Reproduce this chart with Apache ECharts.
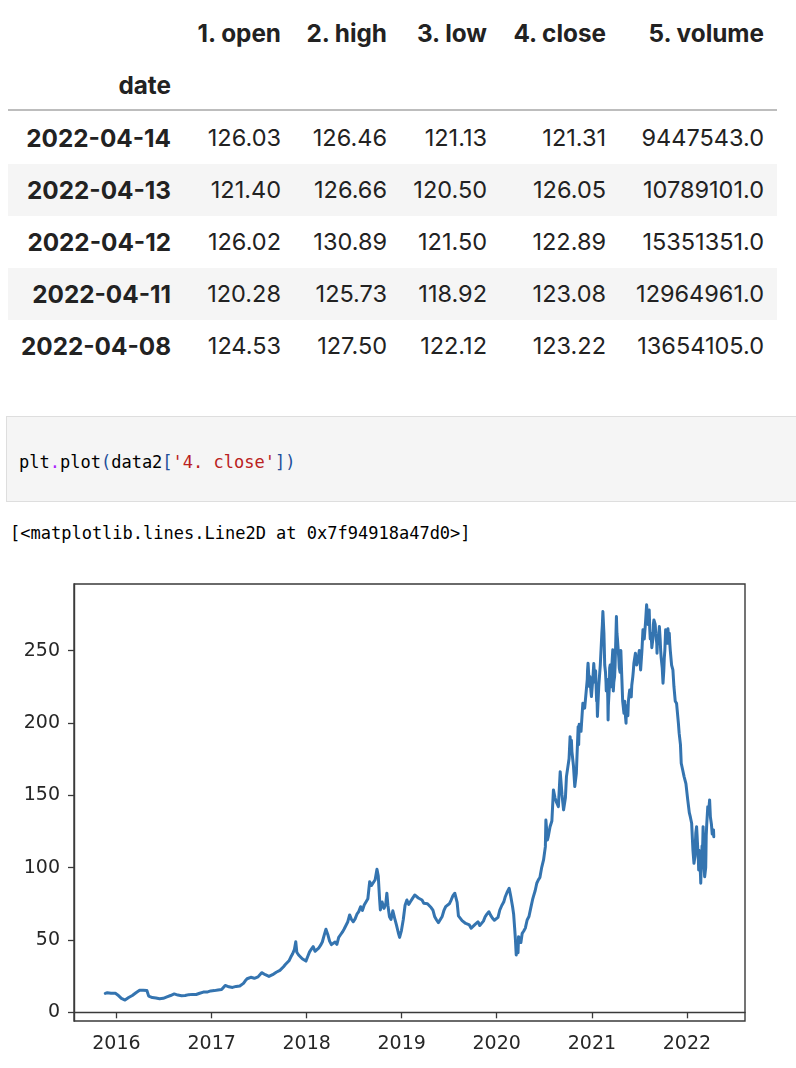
<!DOCTYPE html>
<html>
<head>
<meta charset="utf-8">
<script src="https://cdn.jsdelivr.net/npm/echarts@6/dist/echarts.min.js"></script>
<style>
body{margin:0;background:#fff;}
#page{position:relative;width:796px;height:1068px;overflow:hidden;font-family:Inter,'Liberation Sans',sans-serif;color:#222;}
.c{position:absolute;height:30px;line-height:30px;white-space:nowrap;font-size:23.5px;text-align:right;}
.b{font-weight:700;font-size:24.3px;}
.stripe{position:absolute;left:8px;width:769px;height:52px;background:#f5f5f5;}
.rule{position:absolute;left:8px;width:769px;top:109px;height:2px;background:#bdbdbd;}
.code{position:absolute;left:6px;top:416px;width:800px;height:86px;background:#f5f5f5;border:1px solid #dedede;box-sizing:border-box;}
.mono{font-family:'DejaVu Sans Mono',monospace;font-size:17px;position:absolute;white-space:pre;line-height:20px;height:20px;color:#000;}
#chart{position:absolute;left:0;top:560px;width:796px;height:508px;}
</style>
</head>
<body>
<div id="page">
  <div id="table"></div>
  <div class="code"></div>
  <div class="mono" style="left:19px;top:452px;"><span>plt</span><span style="color:#aa22ff">.</span><span>plot</span><span style="color:#1f4f9a">(</span><span>data2</span><span style="color:#1f4f9a">[</span><span style="color:#ba2121">'4. close'</span><span style="color:#1f4f9a">])</span></div>
  <div class="mono" style="left:10px;top:523px;">[&lt;matplotlib.lines.Line2D at 0x7f94918a47d0&gt;]</div>
  <div id="chart"></div>
</div>
<script>
// ---------- table data ----------
const headers = ['1. open', '2. high', '3. low', '4. close', '5. volume'];
const indexName = 'date';
const tableDates = ['2022-04-14', '2022-04-13', '2022-04-12', '2022-04-11', '2022-04-08'];
const tOpen   = ['126.03', '121.40', '126.02', '120.28', '124.53'];
const tHigh   = ['126.46', '126.66', '130.89', '125.73', '127.50'];
const tLow    = ['121.13', '120.50', '121.50', '118.92', '122.12'];
const tClose  = ['121.31', '126.05', '122.89', '123.08', '123.22'];
const tVolume = ['9447543.0', '10789101.0', '15351351.0', '12964961.0', '13654105.0'];

// ---------- chart data (date, close) ----------
const close2015 = [['2015-11-19',13.1],['2015-11-27',13.5],['2015-12-04',12.9],['2015-12-11',13.2],['2015-12-18',13.4],['2015-12-28',13.1]];
const close2016 = [['2016-01-06',12.0],['2016-01-13',10.8],['2016-01-20',9.6],['2016-01-27',8.9],['2016-02-03',8.5],['2016-02-10',9.3],['2016-02-17',10.2],['2016-02-24',11.0],['2016-03-02',11.6],['2016-03-09',12.4],['2016-03-16',13.5],['2016-03-23',14.2],['2016-03-30',15.2],['2016-04-06',15.9],['2016-04-13',15.3],['2016-04-20',15.7],['2016-04-27',15.1],['2016-05-04',11.2],['2016-05-11',10.5],['2016-05-18',10.2],['2016-05-25',10.0],['2016-06-01',9.9],['2016-06-08',9.6],['2016-06-15',9.4],['2016-06-22',9.5],['2016-06-29',9.7],['2016-07-06',10.1],['2016-07-13',10.7],['2016-07-20',11.2],['2016-07-27',11.6],['2016-08-03',12.2],['2016-08-10',12.7],['2016-08-17',12.3],['2016-08-24',11.9],['2016-08-31',11.7],['2016-09-07',11.5],['2016-09-14',11.3],['2016-09-21',11.6],['2016-09-28',11.9],['2016-10-05',12.2],['2016-10-12',12.6],['2016-10-19',12.4],['2016-10-26',12.1],['2016-11-02',12.3],['2016-11-09',12.8],['2016-11-16',13.2],['2016-11-23',13.6],['2016-11-30',14.0],['2016-12-07',14.3],['2016-12-14',14.0],['2016-12-21',14.5],['2016-12-28',14.8]];
const close2017 = [['2017-01-04',15.2],['2017-01-11',15.0],['2017-01-18',14.9],['2017-01-25',15.4],['2017-02-01',15.5],['2017-02-08',15.7],['2017-02-15',16.8],['2017-02-22',18.6],['2017-03-01',17.9],['2017-03-08',17.6],['2017-03-15',17.4],['2017-03-22',17.2],['2017-03-29',17.6],['2017-04-05',17.9],['2017-04-12',17.5],['2017-04-19',18.2],['2017-04-26',18.9],['2017-05-03',20.0],['2017-05-10',21.8],['2017-05-17',23.2],['2017-05-24',23.9],['2017-05-31',24.2],['2017-06-07',24.0],['2017-06-14',23.5],['2017-06-21',24.0],['2017-06-28',24.5],['2017-07-05',25.3],['2017-07-12',27.4],['2017-07-19',26.6],['2017-07-26',26.0],['2017-08-02',25.5],['2017-08-09',24.8],['2017-08-16',25.3],['2017-08-23',26.0],['2017-08-30',27.0],['2017-09-06',27.7],['2017-09-13',28.3],['2017-09-20',29.0],['2017-09-27',29.9],['2017-10-04',31.5],['2017-10-11',33.0],['2017-10-18',34.2],['2017-10-25',35.6],['2017-11-01',38.2],['2017-11-08',40.5],['2017-11-15',43.5],['2017-11-20',48.8],['2017-11-24',41.5],['2017-12-01',39.6],['2017-12-08',38.4],['2017-12-15',37.0],['2017-12-22',36.0],['2017-12-29',35.4]];
const close2018 = [['2018-01-05',38.6],['2018-01-12',41.8],['2018-01-19',43.6],['2018-01-26',45.4],['2018-02-02',42.2],['2018-02-09',41.0],['2018-02-16',44.4],['2018-02-23',46.2],['2018-03-02',48.6],['2018-03-09',53.2],['2018-03-16',57.4],['2018-03-23',53.8],['2018-03-30',49.2],['2018-04-06',46.8],['2018-04-13',46.3],['2018-04-20',48.6],['2018-04-27',47.0],['2018-05-04',51.8],['2018-05-11',53.6],['2018-05-18',55.4],['2018-05-25',57.6],['2018-06-01',58.8],['2018-06-08',62.6],['2018-06-15',67.3],['2018-06-22',64.2],['2018-06-29',62.6],['2018-07-06',64.6],['2018-07-13',67.8],['2018-07-20',69.6],['2018-07-27',73.0],['2018-08-03',70.4],['2018-08-10',74.2],['2018-08-17',75.4],['2018-08-24',78.5],['2018-08-31',90.3],['2018-09-07',87.6],['2018-09-14',86.8],['2018-09-21',91.6],['2018-09-28',98.9],['2018-10-03',94.2],['2018-10-08',78.4],['2018-10-11',70.7],['2018-10-18',76.2],['2018-10-25',71.8],['2018-11-01',75.2],['2018-11-05',82.3],['2018-11-09',74.0],['2018-11-15',66.1],['2018-11-21',64.2],['2018-11-28',70.2],['2018-12-05',65.0],['2018-12-12',60.2],['2018-12-19',55.0],['2018-12-24',51.8],['2018-12-31',56.5]];
const close2019 = [['2019-01-07',64.0],['2019-01-14',74.0],['2019-01-21',77.6],['2019-01-28',74.6],['2019-02-04',76.6],['2019-02-11',78.6],['2019-02-20',81.1],['2019-02-27',80.0],['2019-03-06',79.0],['2019-03-13',78.4],['2019-03-20',77.6],['2019-03-27',75.4],['2019-04-03',76.6],['2019-04-10',75.0],['2019-04-17',74.2],['2019-04-24',72.4],['2019-05-01',70.6],['2019-05-08',66.0],['2019-05-15',63.8],['2019-05-22',62.0],['2019-05-29',61.5],['2019-06-05',66.0],['2019-06-12',70.2],['2019-06-19',73.0],['2019-06-26',71.9],['2019-07-03',75.0],['2019-07-10',77.6],['2019-07-17',80.6],['2019-07-24',82.3],['2019-07-31',81.1],['2019-08-02',76.0],['2019-08-07',66.6],['2019-08-14',66.1],['2019-08-21',63.4],['2019-08-28',62.6],['2019-09-04',61.4],['2019-09-11',62.0],['2019-09-18',60.4],['2019-09-25',58.1],['2019-10-02',59.4],['2019-10-09',60.6],['2019-10-16',61.6],['2019-10-21',62.6],['2019-10-28',60.0],['2019-11-04',60.4],['2019-11-11',63.0],['2019-11-18',66.2],['2019-11-25',68.0],['2019-12-02',69.5],['2019-12-09',67.0],['2019-12-16',65.0],['2019-12-23',63.6],['2019-12-30',62.6]];
const close2020 = [['2020-01-06',65.6],['2020-01-13',70.7],['2020-01-21',74.0],['2020-01-28',76.2],['2020-02-03',79.9],['2020-02-10',83.0],['2020-02-18',85.7],['2020-02-24',80.2],['2020-03-02',73.0],['2020-03-06',68.0],['2020-03-10',58.2],['2020-03-13',50.2],['2020-03-16',39.6],['2020-03-18',43.0],['2020-03-20',45.2],['2020-03-23',41.2],['2020-03-25',52.3],['2020-03-30',50.0],['2020-04-03',48.2],['2020-04-08',54.6],['2020-04-14',56.2],['2020-04-20',58.2],['2020-04-27',63.8],['2020-05-04',66.2],['2020-05-11',72.2],['2020-05-18',78.0],['2020-05-21',79.9],['2020-05-28',84.2],['2020-06-03',89.2],['2020-06-09',91.5],['2020-06-15',93.2],['2020-06-22',100.2],['2020-06-29',105.3],['2020-07-06',114.5],['2020-07-08',132.9],['2020-07-14',119.1],['2020-07-17',121.4],['2020-07-24',128.2],['2020-07-31',132.2],['2020-08-06',153.7],['2020-08-12',148.2],['2020-08-18',145.0],['2020-08-25',142.1],['2020-09-01',166.3],['2020-09-08',150.2],['2020-09-14',139.9],['2020-09-21',148.2],['2020-09-25',162.9],['2020-10-05',175.2],['2020-10-09',190.5],['2020-10-12',182.0],['2020-10-14',188.0],['2020-10-16',180.2],['2020-10-22',170.2],['2020-10-27',156.0],['2020-11-02',165.2],['2020-11-09',197.4],['2020-11-11',185.0],['2020-11-13',199.0],['2020-11-16',200.2],['2020-11-20',194.2],['2020-11-27',213.6],['2020-12-04',210.2],['2020-12-10',222.2],['2020-12-14',230.0],['2020-12-15',236.0],['2020-12-17',241.3],['2020-12-22',225.2],['2020-12-24',232.0],['2020-12-28',222.0],['2020-12-30',218.2]];
const close2021 = [['2021-01-04',229.7],['2021-01-06',235.0],['2021-01-08',241.0],['2021-01-11',232.0],['2021-01-13',228.0],['2021-01-15',236.0],['2021-01-19',215.0],['2021-01-20',222.0],['2021-01-22',204.4],['2021-01-27',225.0],['2021-02-02',240.0],['2021-02-08',262.0],['2021-02-10',268.0],['2021-02-12',277.0],['2021-02-16',262.0],['2021-02-17',255.0],['2021-02-19',240.0],['2021-02-22',235.0],['2021-02-24',228.0],['2021-02-25',222.0],['2021-03-01',230.0],['2021-03-03',215.0],['2021-03-04',202.1],['2021-03-05',212.0],['2021-03-09',225.0],['2021-03-10',238.0],['2021-03-12',240.0],['2021-03-16',225.0],['2021-03-17',235.0],['2021-03-22',250.5],['2021-03-23',240.0],['2021-03-24',222.0],['2021-03-26',228.0],['2021-03-29',232.0],['2021-03-31',240.0],['2021-04-05',273.5],['2021-04-07',262.0],['2021-04-09',258.0],['2021-04-12',250.0],['2021-04-14',245.0],['2021-04-16',238.0],['2021-04-19',235.0],['2021-04-20',246.0],['2021-04-22',250.0],['2021-04-26',230.0],['2021-04-29',215.0],['2021-05-04',206.7],['2021-05-05',212.0],['2021-05-07',215.0],['2021-05-10',204.0],['2021-05-12',199.8],['2021-05-13',212.0],['2021-05-17',208.0],['2021-05-19',205.0],['2021-05-21',215.0],['2021-05-24',220.0],['2021-05-26',222.8],['2021-06-01',218.0],['2021-06-03',226.0],['2021-06-07',232.0],['2021-06-09',236.0],['2021-06-11',241.0],['2021-06-17',248.2],['2021-06-22',240.0],['2021-06-28',245.0],['2021-07-02',250.0],['2021-07-07',236.6],['2021-07-12',250.0],['2021-07-16',264.3],['2021-07-21',258.0],['2021-07-26',270.0],['2021-07-30',281.6],['2021-08-03',272.0],['2021-08-05',268.0],['2021-08-06',276.0],['2021-08-09',278.0],['2021-08-11',265.0],['2021-08-13',258.0],['2021-08-16',262.0],['2021-08-18',256.0],['2021-08-19',252.0],['2021-08-23',258.0],['2021-08-24',262.0],['2021-08-25',268.0],['2021-08-27',271.2],['2021-09-01',268.0],['2021-09-03',262.0],['2021-09-07',255.0],['2021-09-08',248.2],['2021-09-10',258.0],['2021-09-13',255.0],['2021-09-15',262.0],['2021-09-17',266.6],['2021-09-20',258.0],['2021-09-22',250.0],['2021-09-24',245.0],['2021-09-28',238.0],['2021-10-01',227.4],['2021-10-04',236.0],['2021-10-06',245.0],['2021-10-08',250.0],['2021-10-11',264.3],['2021-10-13',262.0],['2021-10-15',258.0],['2021-10-18',255.0],['2021-10-20',265.0],['2021-10-22',260.0],['2021-10-25',262.0],['2021-10-27',255.0],['2021-10-29',250.0],['2021-11-03',240.0],['2021-11-08',236.6],['2021-11-12',225.0],['2021-11-17',215.0],['2021-11-22',213.6],['2021-11-29',200.0],['2021-12-02',192.9],['2021-12-07',185.0],['2021-12-10',172.1],['2021-12-15',168.0],['2021-12-21',162.9],['2021-12-28',158.0]];
const close2022 = [['2022-01-04',146.8],['2022-01-10',138.0],['2022-01-14',135.0],['2022-01-19',130.7],['2022-01-24',112.0],['2022-01-28',103.0],['2022-02-01',108.0],['2022-02-02',115.0],['2022-02-04',124.0],['2022-02-07',128.3],['2022-02-09',122.0],['2022-02-10',118.0],['2022-02-14',105.0],['2022-02-15',98.4],['2022-02-16',112.0],['2022-02-18',108.0],['2022-02-22',95.0],['2022-02-23',89.2],['2022-02-24',96.0],['2022-02-28',115.0],['2022-03-01',105.0],['2022-03-03',120.0],['2022-03-04',128.3],['2022-03-07',110.0],['2022-03-08',100.0],['2022-03-09',97.0],['2022-03-10',93.7],['2022-03-14',100.0],['2022-03-15',110.0],['2022-03-16',122.0],['2022-03-18',130.0],['2022-03-22',142.1],['2022-03-25',138.0],['2022-03-29',146.8],['2022-04-01',135.0],['2022-04-05',130.0],['2022-04-08',123.22],['2022-04-11',123.08],['2022-04-12',122.89],['2022-04-13',126.05],['2022-04-14',121.31]];

const yTicks = [0, 50, 100, 150, 200, 250];
const xTickYears = [2016, 2017, 2018, 2019, 2020, 2021, 2022];

// ---------- build table ----------
(function buildTable(){
  const t = document.getElementById('table');
  let html = '';
  html += '<div class="stripe" style="top:164px"></div>';
  html += '<div class="stripe" style="top:268px"></div>';
  html += '<div class="rule"></div>';
  const rights = [171, 281, 387, 487, 606, 764];
  const cell = (txt, right, cy, bold) =>
    '<div class="c' + (bold ? ' b' : '') + '" style="right:' + (796 - right) + 'px;top:' + (cy - 15) + 'px">' + txt + '</div>';
  headers.forEach((h, i) => { html += cell(h, rights[i + 1], 33, true); });
  html += cell(indexName, rights[0], 85, true);
  const cols = [tOpen, tHigh, tLow, tClose, tVolume];
  tableDates.forEach((d, r) => {
    const cy = 138 + 52 * r;
    html += cell(d, rights[0], cy, true);
    cols.forEach((col, ci) => { html += cell(col[r], rights[ci + 1], cy, false); });
  });
  t.innerHTML = html;
})();

// ---------- chart ----------
function ts(s) { const p = s.split('-').map(Number); return Date.UTC(p[0], p[1] - 1, p[2]); }
const allClose = [].concat(close2015, close2016, close2017, close2018, close2019, close2020, close2021, close2022);
const seriesData = allClose.map(d => [ts(d[0]), d[1]]).sort((a, b) => a[0] - b[0]);
const xTicks = xTickYears.map(y => Date.UTC(y, 0, 1));

const axisColor = '#3a3a3a';
const labelStyle = { color: '#262626', fontFamily: 'DejaVu Sans', fontSize: 19 };

const chart = echarts.init(document.getElementById('chart'), null, { renderer: 'canvas' });
chart.setOption({
  animation: false,
  grid: { left: 74, right: 51, top: 24, bottom: 47, show: true, borderColor: axisColor, borderWidth: 1.4, backgroundColor: '#fff' },
  xAxis: {
    type: 'value',
    min: ts('2015-07-22'),
    max: ts('2022-08-12'),
    axisLine: { show: true, lineStyle: { color: axisColor, width: 1.4 } },
    axisTick: { show: true, length: 6, customValues: xTicks, lineStyle: { color: axisColor, width: 1.3 } },
    axisLabel: Object.assign({ customValues: xTicks, margin: 14, formatter: v => String(new Date(v).getUTCFullYear()) }, labelStyle),
    splitLine: { show: false }
  },
  yAxis: {
    type: 'value',
    min: -6,
    max: 296,
    axisLine: { show: true, lineStyle: { color: axisColor, width: 1.4 } },
    axisTick: { show: true, length: 6, customValues: yTicks, lineStyle: { color: axisColor, width: 1.3 } },
    axisLabel: Object.assign({ customValues: yTicks, margin: 14 }, labelStyle),
    splitLine: { show: false }
  },
  series: [{
    type: 'line',
    data: seriesData,
    showSymbol: false,
    lineStyle: { color: '#3474b0', width: 3, join: 'round', cap: 'round' }
  }]
});
</script>
</body>
</html>
